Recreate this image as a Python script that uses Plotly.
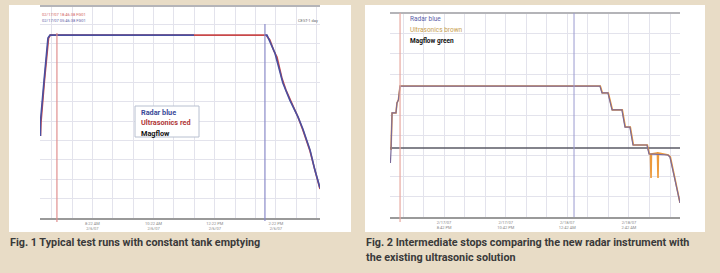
import plotly.graph_objects as go

W, H = 720, 273

# ---------------- data ----------------
# Fig. 1 : constant tank emptying (x in grid units, y in grid units)
f1_radar_x = [0.02, 0.02, 0.20, 0.39, 0.49, 7.55, None, 11.03, 11.13, 11.52, 11.91, 12.25, 12.65, 12.89, 13.24, 13.48, 13.73]
f1_radar_y = [4.23, 4.95, 7.11, 9.28, 9.43, 9.43, None, 9.43, 9.43, 8.51, 6.96, 6.08, 5.21, 4.59, 3.51, 2.47, 1.55]
f1_ultra_x = [0.02, 0.05, 0.22, 0.42, 0.51, 11.08, 11.27, 11.47, 11.62, 11.86, 12.06, 12.30, 12.65, 12.89, 13.24, 13.48, 13.73]
f1_ultra_y = [4.23, 4.95, 7.11, 9.28, 9.43, 9.43, 9.18, 8.61, 8.30, 7.22, 6.60, 6.03, 5.21, 4.54, 3.45, 2.47, 1.49]
f1_cursor_red = 0.83
f1_cursor_blue = 11.03
f1_xmax, f1_ymax = 13.73, 10.93
f1_grid_x = [0.57 + k for k in range(14)]
f1_tick_text = {2: "8:22 AM<br>2/6/07", 5: "10:22 AM<br>2/6/07", 8: "12:22 PM<br>2/6/07", 11: "2:22 PM<br>2/6/07"}
f1_header_red = "02/17/07 18:46:38 FG01"
f1_header_blue = "02/17/07 05:46:38 FG01"
f1_header_right = "CEST-1 day"
f1_legend = ["Radar blue", "Ultrasonics red", "Magflow"]

# Fig. 2 : intermediate stops
f2_radar_x = [0.02, 0.05, 0.10, 0.29, 0.34, 0.41, 0.49, 10.22, 10.32, 10.61, 10.81, 11.29, 11.44, 11.68, 11.83, 12.51, 12.61, 13.53, 13.63, 13.87, 14.12]
f2_radar_y = [2.65, 3.28, 5.10, 5.10, 5.59, 5.74, 6.42, 6.42, 6.08, 6.08, 5.25, 5.25, 4.41, 4.41, 3.53, 3.53, 3.09, 3.04, 2.94, 1.81, 0.69]
f2_ultra_x = [0.05, 0.10, 0.29, 0.34, 0.41, 0.49, 10.24, 10.34, 10.63, 10.83, 11.31, 11.46, 11.70, 11.85, 12.53, 12.63, 12.68, 12.71, 12.73, 13.02, 13.05, 13.07, 13.55, 13.65, 13.89, 14.12]
f2_ultra_y = [3.28, 5.10, 5.10, 5.59, 5.74, 6.42, 6.42, 6.08, 6.08, 5.25, 5.25, 4.41, 4.41, 3.53, 3.53, 3.09, 3.09, 1.91, 3.09, 3.14, 1.91, 3.14, 3.04, 2.94, 1.81, 0.69]
f2_mag_x = [0.0, 14.12]
f2_mag_y = [3.38, 3.38]
f2_cursor_red = 0.49
f2_cursor_blue = 8.96
f2_xmax, f2_ymax = 14.12, 10.0
f2_grid_x = [0.633 + k for k in range(14)]
f2_tick_text = {2: "2/17/07<br>8:42 PM", 5: "2/17/07<br>10:42 PM", 8: "2/18/07<br>12:42 AM", 11: "2/18/07<br>2:42 AM"}
f2_legend = ["Radar blue", "Ultrasonics brown", "Magflow green"]

captions = ["Fig. 1 Typical test runs with constant tank emptying",
            "Fig. 2 Intermediate stops comparing the new radar instrument with<br>the existing ultrasonic solution"]

# ---------------- styles ----------------
BG = "#e8dcc6"
GRID = "#e3e3ec"
BLUE = "#4a50a0"
RED = "#c8484a"
ORANGE = "#ec9a3c"
FONT = "Roboto"


def px(x):
    return x / W


def py(y):
    return 1 - y / H


fig = go.Figure()

# Fig 1 traces
fig.add_trace(go.Scatter(x=f1_ultra_x, y=f1_ultra_y, mode="lines", line=dict(color=RED, width=1.6),
                         xaxis="x", yaxis="y", showlegend=False, hoverinfo="skip"))
fig.add_trace(go.Scatter(x=f1_radar_x, y=f1_radar_y, mode="lines", line=dict(color=BLUE, width=1.6),
                         xaxis="x", yaxis="y", showlegend=False, hoverinfo="skip", connectgaps=False))
# Fig 2 traces
fig.add_trace(go.Scatter(x=f2_mag_x, y=f2_mag_y, mode="lines", line=dict(color="#5a5a64", width=1.6),
                         xaxis="x2", yaxis="y2", showlegend=False, hoverinfo="skip"))
fig.add_trace(go.Scatter(x=f2_ultra_x, y=f2_ultra_y, mode="lines", line=dict(color=ORANGE, width=1.6),
                         xaxis="x2", yaxis="y2", showlegend=False, hoverinfo="skip"))
fig.add_trace(go.Scatter(x=f2_radar_x, y=f2_radar_y, mode="lines", line=dict(color="#7a6a9a", width=1.2),
                         xaxis="x2", yaxis="y2", showlegend=False, hoverinfo="skip"))


def axis_common():
    return dict(showgrid=True, gridcolor=GRID, gridwidth=1, zeroline=False, fixedrange=True)


f1_ticktext = [f1_tick_text.get(k, "") for k in range(len(f1_grid_x))]
f2_ticktext = [f2_tick_text.get(k, "") for k in range(len(f2_grid_x))]

fig.update_layout(
    width=W, height=H, margin=dict(l=0, r=0, t=0, b=0),
    paper_bgcolor=BG, plot_bgcolor="white",
    font=dict(family=FONT, color="#333"),
    xaxis=dict(domain=[px(40), px(320)], range=[0, f1_xmax], tickmode="array", tickvals=f1_grid_x,
               ticktext=f1_ticktext, tickfont=dict(size=4, color="#888"), ticks="", showline=True,
               linecolor="#9a9a9a", linewidth=1.5, anchor="y", **axis_common()),
    yaxis=dict(domain=[py(218), py(6)], range=[0, f1_ymax], dtick=1, tick0=0, showticklabels=False,
               ticks="", anchor="x", **axis_common()),
    xaxis2=dict(domain=[px(390), px(680)], range=[0, f2_xmax], tickmode="array", tickvals=f2_grid_x,
                ticktext=f2_ticktext, tickfont=dict(size=4, color="#888"), ticks="", showline=True,
                linecolor="#9a9a9a", linewidth=1.5, anchor="y2", **axis_common()),
    yaxis2=dict(domain=[py(217), py(13)], range=[0, f2_ymax], dtick=1, tick0=0, showticklabels=False,
                ticks="", anchor="x2", **axis_common()),
)

shapes = []
# white panels
shapes.append(dict(type="rect", xref="paper", yref="paper", x0=px(9), x1=px(351), y0=py(232), y1=py(5),
                   fillcolor="white", line=dict(width=0), layer="below"))
shapes.append(dict(type="rect", xref="paper", yref="paper", x0=px(365), x1=px(705), y0=py(232), y1=py(5),
                   fillcolor="white", line=dict(width=0), layer="below"))
# top gray rules
shapes.append(dict(type="line", xref="paper", yref="paper", x0=px(40), x1=px(320), y0=py(6), y1=py(6),
                   line=dict(color="#b4b4b8", width=2)))
shapes.append(dict(type="line", xref="paper", yref="paper", x0=px(390), x1=px(680), y0=py(13), y1=py(13),
                   line=dict(color="#b4b4b8", width=2)))
# cursors
shapes.append(dict(type="line", xref="x", yref="paper", x0=f1_cursor_red, x1=f1_cursor_red, y0=py(222), y1=py(33),
                   line=dict(color="#e09090", width=1.2)))
shapes.append(dict(type="line", xref="x", yref="paper", x0=f1_cursor_blue, x1=f1_cursor_blue, y0=py(221), y1=py(24),
                   line=dict(color="#8a8ac8", width=1.2)))
shapes.append(dict(type="line", xref="x2", yref="paper", x0=f2_cursor_red, x1=f2_cursor_red, y0=py(222), y1=py(13),
                   line=dict(color="#e8a8a0", width=1.2)))
shapes.append(dict(type="line", xref="x2", yref="paper", x0=f2_cursor_blue, x1=f2_cursor_blue, y0=py(217), y1=py(13),
                   line=dict(color="#9a9ad0", width=1.0)))
# legend box fig 1
shapes.append(dict(type="rect", xref="paper", yref="paper", x0=px(135), x1=px(199), y0=py(137), y1=py(106),
                   fillcolor="white", line=dict(color="#b8c0d0", width=1)))
fig.update_layout(shapes=shapes)

ann = []


def text(x, y, s, size, color, bold=False, xanchor="left", yanchor="middle", family=FONT):
    ann.append(dict(xref="paper", yref="paper", x=px(x), y=py(y), text=f"<b>{s}</b>" if bold else s,
                    showarrow=False, xanchor=xanchor, yanchor=yanchor, align="left",
                    font=dict(size=size, color=color, family=family)))


text(40, 14, f1_header_red, 4, "#d06060")
text(40, 21, f1_header_blue, 4, "#6060a8")
text(320, 21, f1_header_right, 4, "#666", xanchor="right")
text(139, 113, f1_legend[0], 7.3, "#3a4a98", bold=True)
text(139, 123, f1_legend[1], 7.3, "#b03838", bold=True)
text(139, 133, f1_legend[2], 7.3, "#111", bold=True)
text(408, 19, f2_legend[0], 6.5, "#5a60a8")
text(408, 30, f2_legend[1], 6.5, "#c8a050")
text(408, 41, f2_legend[2], 6.5, "#111", bold=True)
text(8, 243, captions[0], 10.8, "#3a3a3a", bold=True)
text(364, 243, captions[1].split("<br>")[0], 10.8, "#3a3a3a", bold=True)
text(364, 257, captions[1].split("<br>")[1], 10.8, "#3a3a3a", bold=True)
fig.update_layout(annotations=ann)

fig.write_html("out.html")
